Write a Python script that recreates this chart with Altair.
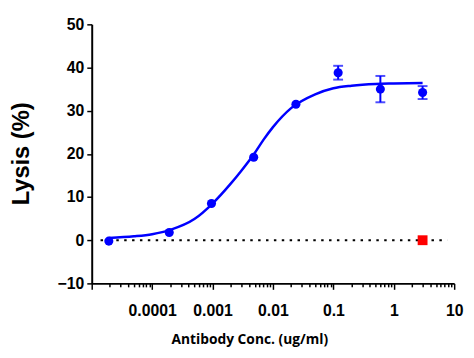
import altair as alt
import pandas as pd

# Measured data (dose-response)
conc = [1.92e-5, 0.000192, 0.00096, 0.0048, 0.024, 0.12, 0.6, 3.0]
lysis = [-0.2, 1.8, 8.5, 19.2, 31.5, 38.8, 35.0, 34.2]
err = [0, 0, 0, 0, 0, 1.6, 3.05, 1.5]

# Fitted curve
curve_x = [1.92e-5, 5e-5, 1e-4, 2e-4, 5e-4, 1e-3, 2e-3, 3e-3, 5e-3, 7e-3,
           1e-2, 2e-2, 5e-2, 0.1, 0.2, 0.5, 1.0, 3.0]
curve_y = [0.5, 0.9, 1.4, 2.4, 4.9, 8.5, 13.1, 16.1, 20.2, 23.3,
           26.2, 30.6, 33.8, 35.2, 35.8, 36.2, 36.3, 36.4]

# Control point
ctrl_x = [3.0]
ctrl_y = [0.0]

# Baseline (dotted)
base_x = [1.4e-5, 7.7]
base_y = [0.0, 0.0]

y_ticks = [-10, 0, 10, 20, 30, 40, 50]
decades = [1e-5, 1e-4, 1e-3, 1e-2, 1e-1, 1.0]
x_ticks = [d * k for d in decades for k in range(1, 10)] + [10.0]

pts = pd.DataFrame({"x": conc, "y": lysis, "lo": [v - e for v, e in zip(lysis, err)],
                    "hi": [v + e for v, e in zip(lysis, err)], "e": err})
pts_err = pts[pts["e"] > 0]
curve = pd.DataFrame({"x": curve_x, "y": curve_y})
ctrl = pd.DataFrame({"x": ctrl_x, "y": ctrl_y})
base = pd.DataFrame({"x": base_x, "y": base_y})

major_test = "abs(log(datum.value)/LN10 - round(log(datum.value)/LN10)) < 0.001"

xscale = alt.Scale(type="log", domain=[1e-5, 10], nice=False)
yscale = alt.Scale(domain=[-10, 50], nice=False, zero=False)

xaxis = alt.Axis(
    values=x_ticks,
    labelExpr=f"({major_test}) && datum.value > 0.00005 ? format(datum.value, '~g') : ''",
    tickSize={"condition": {"test": major_test, "value": 6}, "value": 3.5},
    grid=False, domainColor="black", domainWidth=2, tickColor="black", tickWidth=1.5,
    labelFont="Liberation Sans", labelFontSize=16, labelFontWeight="bold", labelColor="black",
    labelPadding=14, labelOverlap=False, labelFlush=False,
    title="Antibody Conc. (ug/ml)", titleFont="Open Sans", titleFontSize=14,
    titleFontWeight="bold", titleColor="black",
    titleX=160, titleY=61, titleBaseline="alphabetic", titleAnchor="middle", titleAlign="center",
)
yaxis = alt.Axis(
    values=y_ticks, grid=False, domainColor="black", domainWidth=2, tickColor="black",
    tickWidth=1.5, tickSize=5, labelFont="Liberation Sans", labelFontSize=16,
    labelFontWeight="bold", labelColor="black", labelPadding=3,
    title="Lysis (%)", titleFont="Liberation Sans", titleFontSize=24, titleFontWeight="bold",
    titleColor="black", titleX=-71, titleY=131, titleAngle=-90,
    titleBaseline="middle", titleAlign="center", titleAnchor="middle",
)

def X():
    return alt.X("x:Q", scale=xscale, axis=xaxis)

def Y():
    return alt.Y("y:Q", scale=yscale, axis=yaxis)

base_layer = alt.Chart(base).mark_line(color="black", strokeWidth=2.2, strokeDash=[2.5, 5.5]).encode(x=X(), y=Y())
curve_layer = alt.Chart(curve).mark_line(color="#0000FF", strokeWidth=2.5, interpolate="monotone").encode(x=X(), y=Y())
bars = alt.Chart(pts_err).mark_rule(color="#0000FF", strokeWidth=2).encode(x=X(), y=alt.Y("lo:Q", scale=yscale, axis=yaxis), y2="hi:Q")
caps_lo = alt.Chart(pts_err).mark_tick(color="#0000FF", size=10, thickness=2, orient="horizontal").encode(x=X(), y=alt.Y("lo:Q", scale=yscale, axis=yaxis))
caps_hi = alt.Chart(pts_err).mark_tick(color="#0000FF", size=10, thickness=2, orient="horizontal").encode(x=X(), y=alt.Y("hi:Q", scale=yscale, axis=yaxis))
dots = alt.Chart(pts).mark_circle(color="#0000FF", opacity=1, size=85).encode(x=X(), y=Y())
ctrl_layer = alt.Chart(ctrl).mark_square(color="#FF0000", opacity=1, size=100).encode(x=X(), y=Y())

chart = alt.layer(base_layer, curve_layer, bars, caps_lo, caps_hi, dots, ctrl_layer).properties(
    width=368, height=263,
    autosize=alt.AutoSizeParams(type="none"),
    padding={"left": 85, "top": 14, "right": 12, "bottom": 64},
).configure_view(stroke=None)

chart.save("out.html", embed_options={"renderer": "svg", "actions": False})
